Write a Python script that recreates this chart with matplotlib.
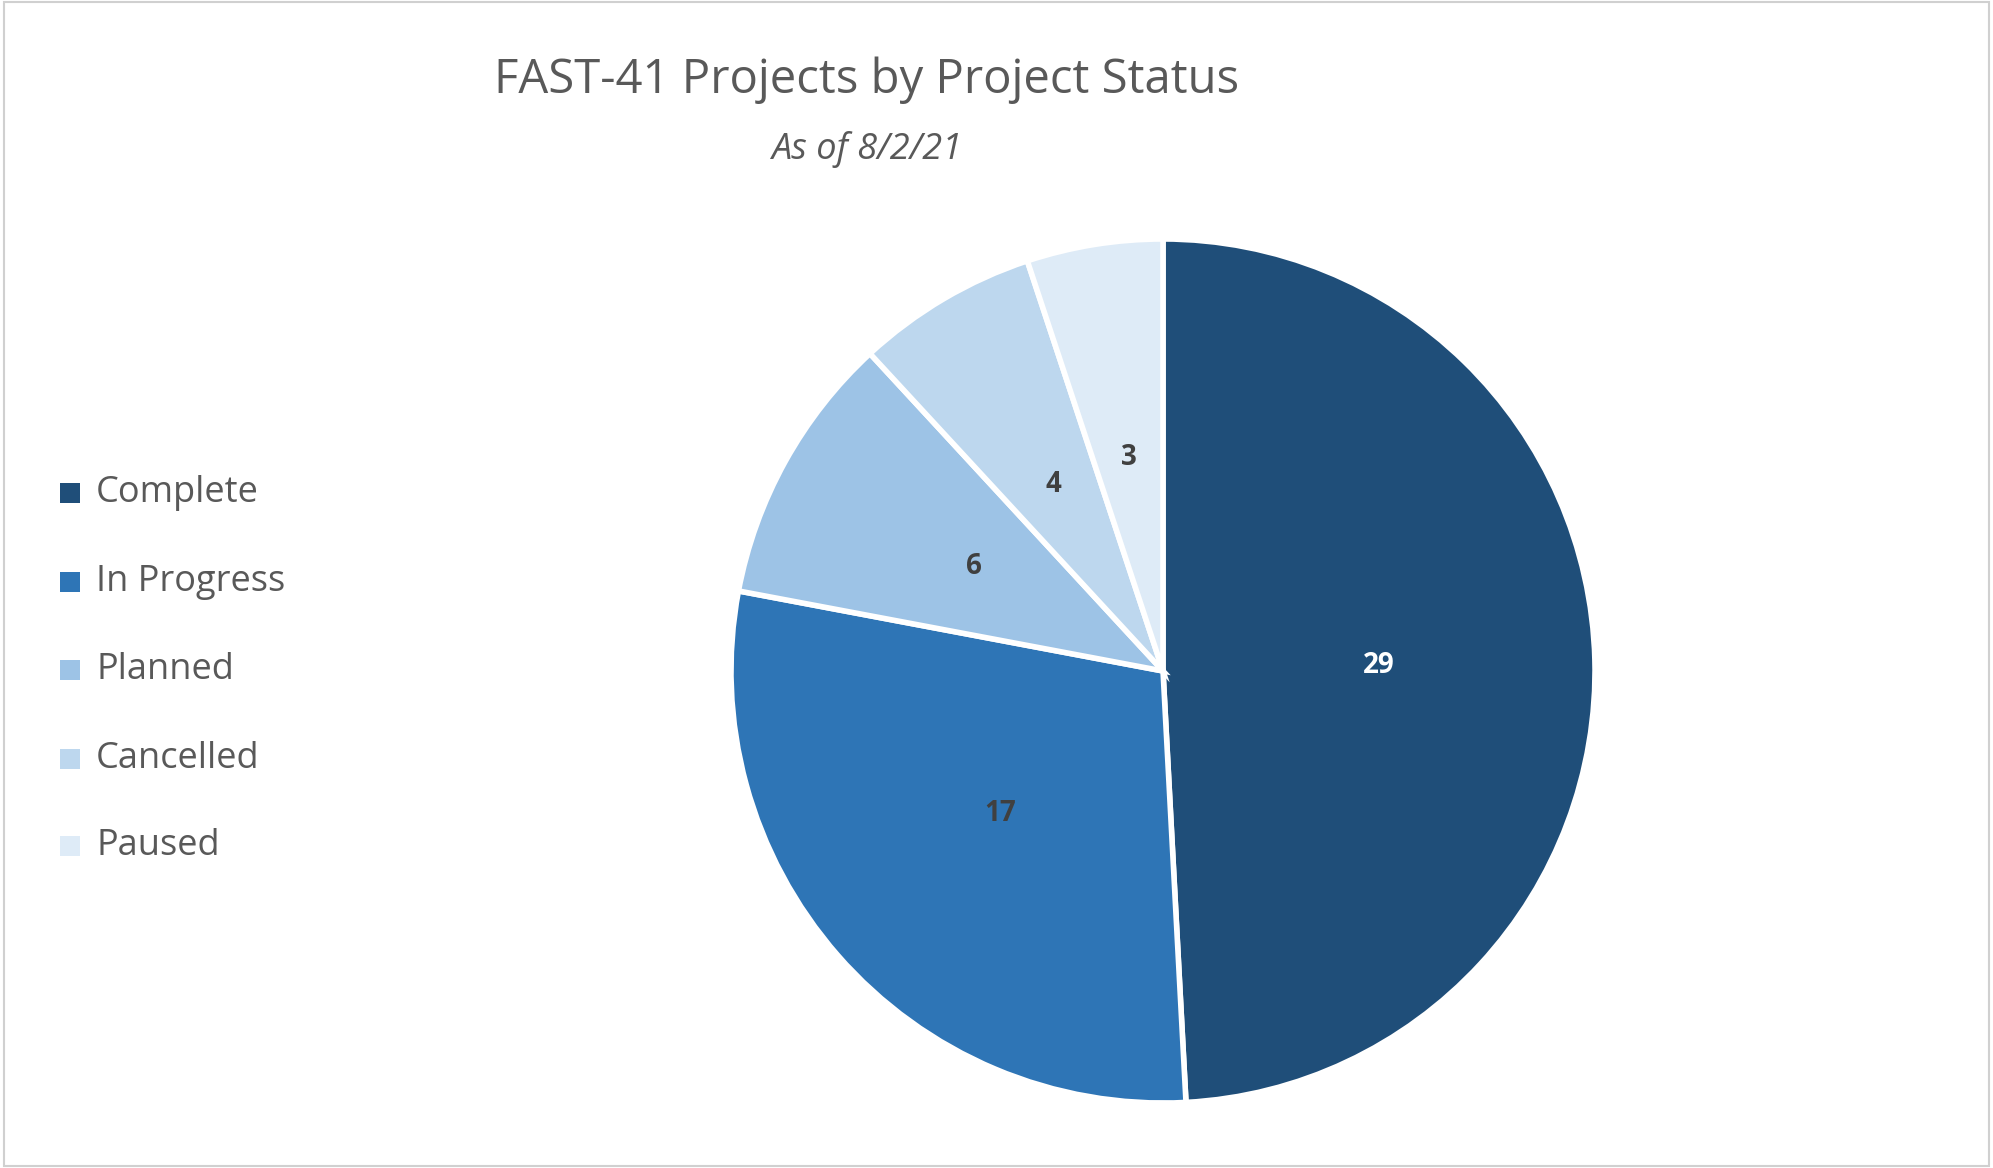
import matplotlib
matplotlib.use("Agg")
import matplotlib.pyplot as plt
from matplotlib.patches import Rectangle

categories = ["Complete", "In Progress", "Planned", "Cancelled", "Paused"]
values = [29, 17, 6, 4, 3]
colors = ["#1F4E79", "#2E75B6", "#9DC3E6", "#BDD7EE", "#DEEBF7"]
label_colors = ["white", "#404040", "#404040", "#404040", "#404040"]

W, H = 1993, 1168
fig = plt.figure(figsize=(W/100, H/100), dpi=100)
fig.patches.append(Rectangle((0.002, 0.002), 0.996, 0.996, transform=fig.transFigure,
                             fill=False, edgecolor="#D0D0D0", lw=1.5))
font = "Open Sans"
cx, cy, r = 1163/W, (H-671)/H, 432
ax = fig.add_axes([cx - r/W, cy - r/H, 2*r/W, 2*r/H])
wedges, texts = ax.pie(values, colors=colors, startangle=90, counterclock=False,
                       wedgeprops=dict(edgecolor="white", linewidth=4))
import numpy as np
tot = sum(values)
ang = 90
for v, c in zip(values, label_colors):
    mid = np.deg2rad(ang - v/tot*180)
    ax.text(0.5*np.cos(mid), 0.5*np.sin(mid), str(v), ha="center", va="center",
            fontsize=20, fontweight="bold", color=c, family=font)
    ang -= v/tot*360
ax.set_xlim(-1, 1); ax.set_ylim(-1, 1); ax.set_aspect("equal")

fig.text(0.435, 1-80/H, "FAST-41 Projects by Project Status", ha="center", va="center",
         fontsize=34, color="#595959", family=font)
fig.text(0.435, 1-149/H, "As of 8/2/21", ha="center", va="center",
         fontsize=26, style="italic", color="#595959", family=font)

ys = [493, 582, 670, 759, 846]
for cat, col, y in zip(categories, colors, ys):
    s = 20
    fig.patches.append(Rectangle(((60)/W, (H-y-s/2)/H), s/W, s/H, transform=fig.transFigure,
                                 facecolor=col, edgecolor="none"))
    fig.text(96/W, (H-y)/H, cat, ha="left", va="center", fontsize=26,
             color="#595959", family=font)

fig.savefig("out.png", dpi=100)
